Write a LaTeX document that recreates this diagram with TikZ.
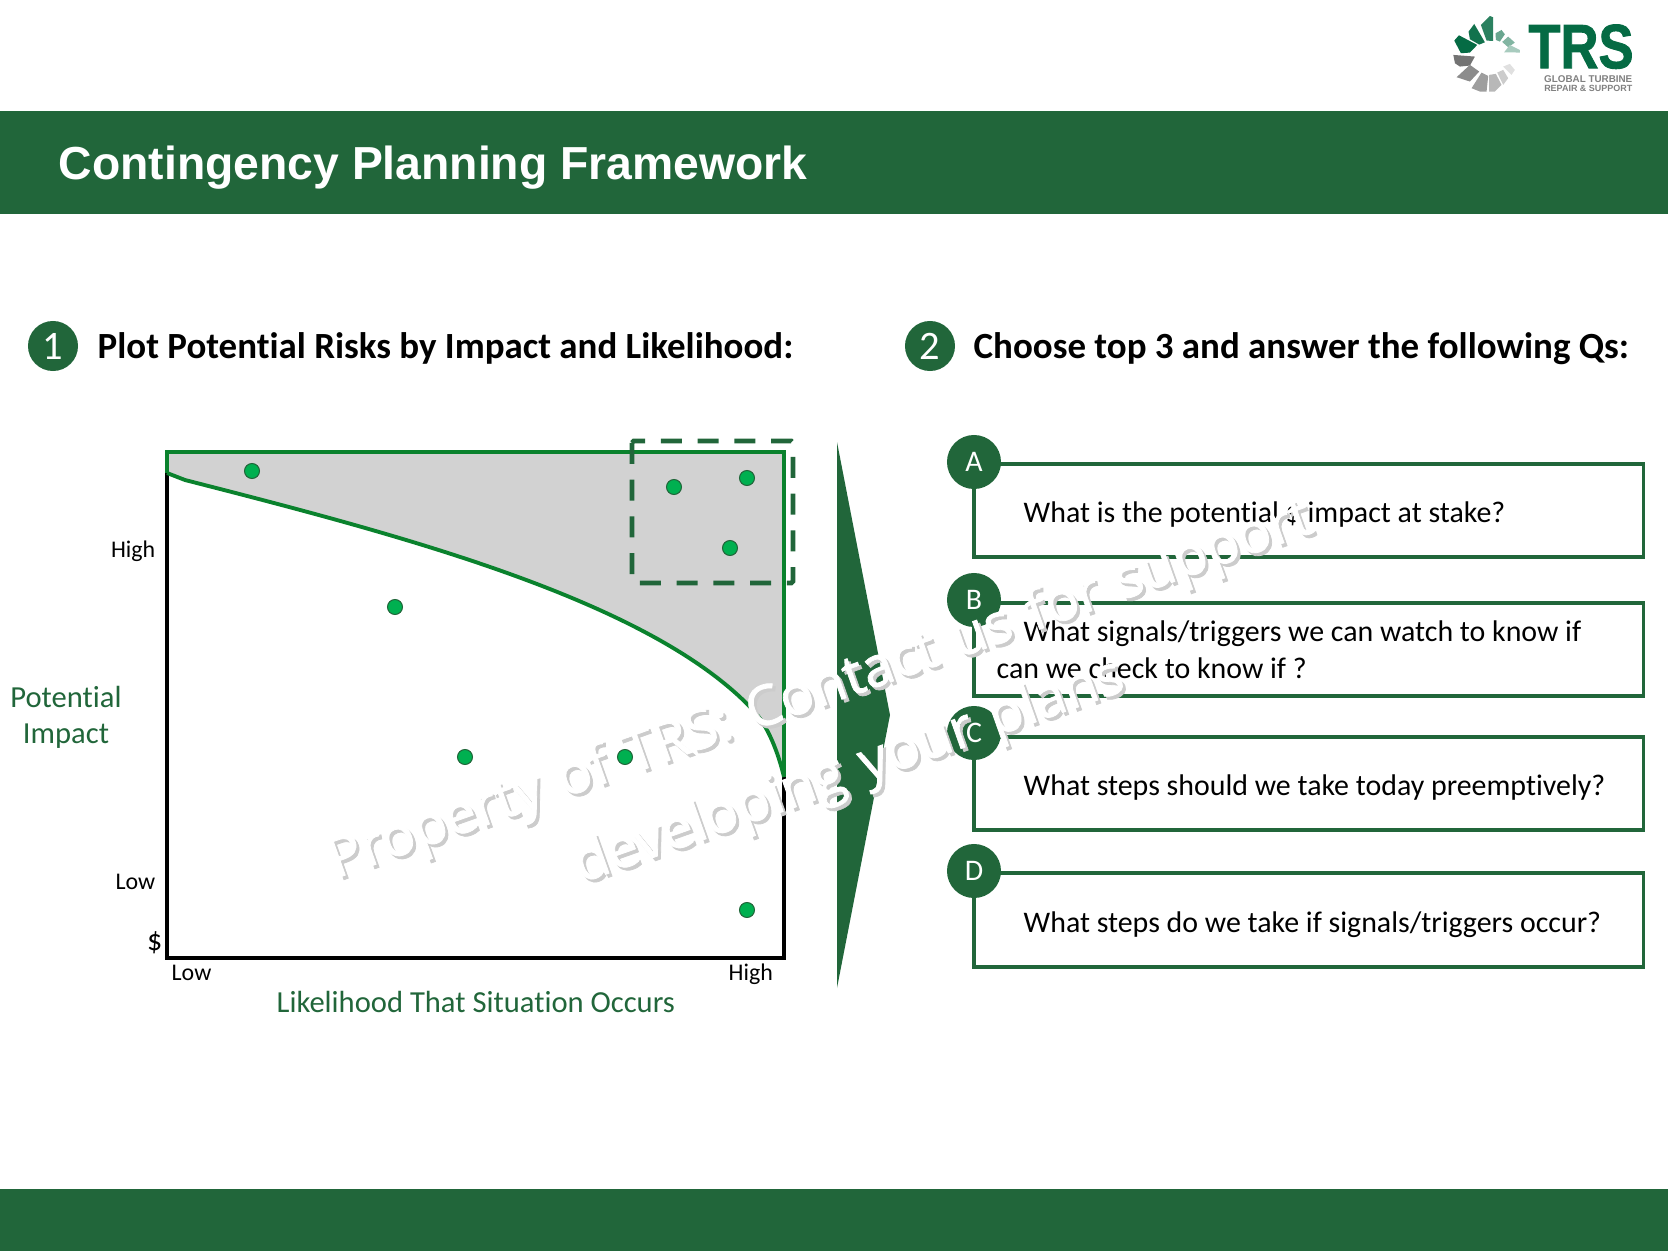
\documentclass[tikz,border=0pt]{standalone}
\usepackage{fontspec}
\setmainfont[Ligatures=NoCommon]{Carlito}
\newfontfamily\arialfont{Liberation Sans}
\newfontfamily\logofont[BoldFeatures={FakeBold=1.5}]{Liberation Sans}
\newfontfamily\markfont[FakeBold=1.4, WordSpace=1.3]{Open Sans}
\usetikzlibrary{positioning}
\definecolor{mygreen}{RGB}{33,102,58}
\definecolor{mylogo}{RGB}{5,107,68}
\definecolor{myline}{RGB}{10,130,45}
\definecolor{mydot}{RGB}{0,176,80}
\definecolor{mygray}{RGB}{210,210,210}
\tikzset{
  band/.style={fill=mygreen, draw=none},
  badge/.style={circle, fill=mygreen, text=white, inner sep=0pt, outer sep=0pt},
  numbadge/.style={badge, minimum size=0.5cm, font=\fontsize{11.5}{12}\selectfont},
  letterbadge/.style={badge, minimum size=0.54cm, font=\fontsize{8.5}{10}\selectfont},
  heading/.style={anchor=base west, inner sep=0pt, font=\fontsize{10.5}{12}\selectfont\bfseries},
  question/.style={anchor=base west, inner sep=0pt, font=\fontsize{8.5}{10}\selectfont},
  qbox/.style={draw=mygreen, line width=0.9pt, anchor=north west, outer sep=0pt, minimum width=6.69cm},
  risk/.style={circle, fill=mydot, draw=mygreen, line width=0.3pt, minimum size=0.15cm, inner sep=0pt},
  ticklabel/.style={inner sep=0pt, font=\fontsize{6.8}{8}\selectfont},
  axislabel/.style={inner sep=0pt, text=mygreen, font=\fontsize{8.7}{10.3}\selectfont},
  mark text/.style={rotate=19.5, align=center, inner sep=0pt, font=\markfont\fontsize{15.8}{24.5}\selectfont},
  petal/.style={draw=none}
}
\begin{document}
\begin{tikzpicture}[x=0.01cm, y=-0.01cm]
\useasboundingbox (0,0) rectangle (1668,1251);

% Header and footer bands
\fill[band] (0,111) rectangle (1668,214);
\fill[band] (0,1189) rectangle (1668,1251);
\node[anchor=base west, inner sep=0pt, text=white, font=\arialfont\bfseries\fontsize{13.17}{16}\selectfont] (title) at (58,179) {Contingency Planning Framework};

% Logo
\begin{scope}[shift={(1420,0)}, x=0.00333cm, y=-0.00333cm]
\fill[petal, fill=mylogo] (103,122) -- (117,106) -- (172,135) -- (150,158) -- (123,160) -- cycle;
\fill[petal, fill=mylogo!95] (146,95) -- (163,72) -- (195,127) -- (178,134) -- (150,118) -- cycle;
\fill[petal, fill=mylogo!85] (183,75) -- (210,48) -- (220,52) -- (220,123) -- (200,122) -- cycle;
\fill[petal, fill=mylogo!60] (227,100) -- (245,90) -- (255,103) -- (240,125) -- (228,120) -- cycle;
\fill[petal, fill=mylogo!50] (247,126) -- (265,110) -- (285,128) -- (265,142) -- cycle;
\fill[petal, fill=mylogo!35] (253,157) -- (270,135) -- (300,150) -- (300,158) -- cycle;
\fill[petal, fill=black!55] (100,165) -- (165,170) -- (150,197) -- (120,200) -- (105,190) -- cycle;
\fill[petal, fill=black!45] (110,232) -- (150,195) -- (178,215) -- (150,245) -- cycle;
\fill[petal, fill=black!38] (155,265) -- (185,218) -- (205,228) -- (200,275) -- (180,275) -- cycle;
\fill[petal, fill=black!28] (208,225) -- (228,222) -- (245,255) -- (225,275) -- (208,275) -- cycle;
\fill[petal, fill=black!20] (232,218) -- (250,210) -- (265,235) -- (250,255) -- cycle;
\fill[petal, fill=black!12] (250,200) -- (270,192) -- (285,210) -- (275,225) -- cycle;
\node[anchor=base west, inner sep=0pt, text=mylogo, xscale=0.84, font=\logofont\bfseries\fontsize{17.8}{20}\selectfont] (logotrs) at (324,205) {TRS};
\node[anchor=base east, inner sep=0pt, text=black!50, font=\arialfont\bfseries\fontsize{2.8}{3}\selectfont] (logoone) at (640,247) {GLOBAL TURBINE};
\node[anchor=base east, inner sep=0pt, text=black!50, font=\arialfont\bfseries\fontsize{2.55}{3}\selectfont] (logotwo) at (640,275) {REPAIR \& SUPPORT};
\end{scope}

% Step headings
\node[numbadge] (stepone) at (53,346) {1};
\node[heading] (headone) at (97,358) {Plot Potential Risks by Impact and Likelihood:};
\node[numbadge] (steptwo) at (930,346) {2};
\node[heading] (headtwo) at (973,358) {Choose top 3 and answer the following Qs:};

% Risk plot
\coordinate (plottl) at (167,452);
\coordinate (plottr) at (784,452);
\coordinate (plotbl) at (167,958);
\coordinate (plotbr) at (784,958);
\coordinate (curvel) at (167,473);
\coordinate (curver) at (784,777);
\fill[mygray] (curvel) -- (plottl) -- (plottr) -- (curver) .. controls (778,752) and (768,726) .. (753,710) .. controls (650,600) and (400,535) .. (185,480) -- cycle;
\draw[line width=1.1pt, line cap=rect] (curvel) -- (plotbl) -- (plotbr) -- (curver);
\draw[myline, line width=1.1pt] (curvel) -- (plottl) -- (plottr) -- (curver);
\draw[myline, line width=1.1pt] (curvel) -- (185,480) .. controls (400,535) and (650,600) .. (753,710) .. controls (768,726) and (778,752) .. (curver);

% Top right selection
\draw[mygreen, line width=1.35pt, dash pattern=on 6pt off 4.45pt, rounded corners=0.5pt] (632,441) rectangle (793,583);

% Risks
\node[risk] (riska) at (252,471) {};
\node[risk] (riskb) at (674,487) {};
\node[risk] (riskc) at (747,478) {};
\node[risk] (riskd) at (730,548) {};
\node[risk] (riske) at (395,607) {};
\node[risk] (riskf) at (465,757) {};
\node[risk] (riskg) at (625,757) {};
\node[risk] (riskh) at (747,910) {};

% Axis labels
\node[ticklabel, anchor=base east] (yhigh) at (156,557) {High};
\node[ticklabel, anchor=base east] (ylow) at (156,889) {Low};
\node[ticklabel, anchor=base east, font=\fontsize{8.5}{10}\selectfont] (ydollar) at (163,950) {\$};
\node[ticklabel, anchor=base west] (xlow) at (171,980) {Low};
\node[ticklabel, anchor=base west] (xhigh) at (728,980) {High};
\node[axislabel, anchor=base west] (xname) at (276,1012) {Likelihood That Situation Occurs};
\node[axislabel, align=center] (yname) at (66,717) {Potential\\Impact};

% Chevron
\fill[mygreen] (837,442) -- (890,715) -- (837,988) -- cycle;

% Question boxes
\node[qbox, minimum height=0.93cm] (boxa) at (974,464) {};
\node[qbox, minimum height=0.93cm] (boxb) at (974,603) {};
\node[qbox, minimum height=0.93cm] (boxc) at (974,737) {};
\node[qbox, minimum height=0.94cm] (boxd) at (974,873) {};
\node[letterbadge] (leta) at (974,462) {A};
\node[letterbadge] (letb) at (974,600) {B};
\node[letterbadge] (letc) at (974,733) {C};
\node[letterbadge] (letd) at (974,871) {D};
\node[question] (qa) at (1023,522) {What is the potential \$ impact at stake?};
\node[question] (qb) at (1023,641) {What signals/triggers we can watch to know if};
\node[question] (qbb) at (996,678) {can we check to know if ?};
\node[question] (qc) at (1023,795) {What steps should we take today preemptively?};
\node[question] (qd) at (1023,932) {What steps do we take if signals/triggers occur?};

% Watermark
\node[mark text, text=black!20] (markshadow) at (838,735) {Property of TRS: Contact us for support\\developing your plans};
\node[mark text, text=white] (mark) at (835,732) {Property of TRS: Contact us for support\\developing your plans};
\end{tikzpicture}
\end{document}
